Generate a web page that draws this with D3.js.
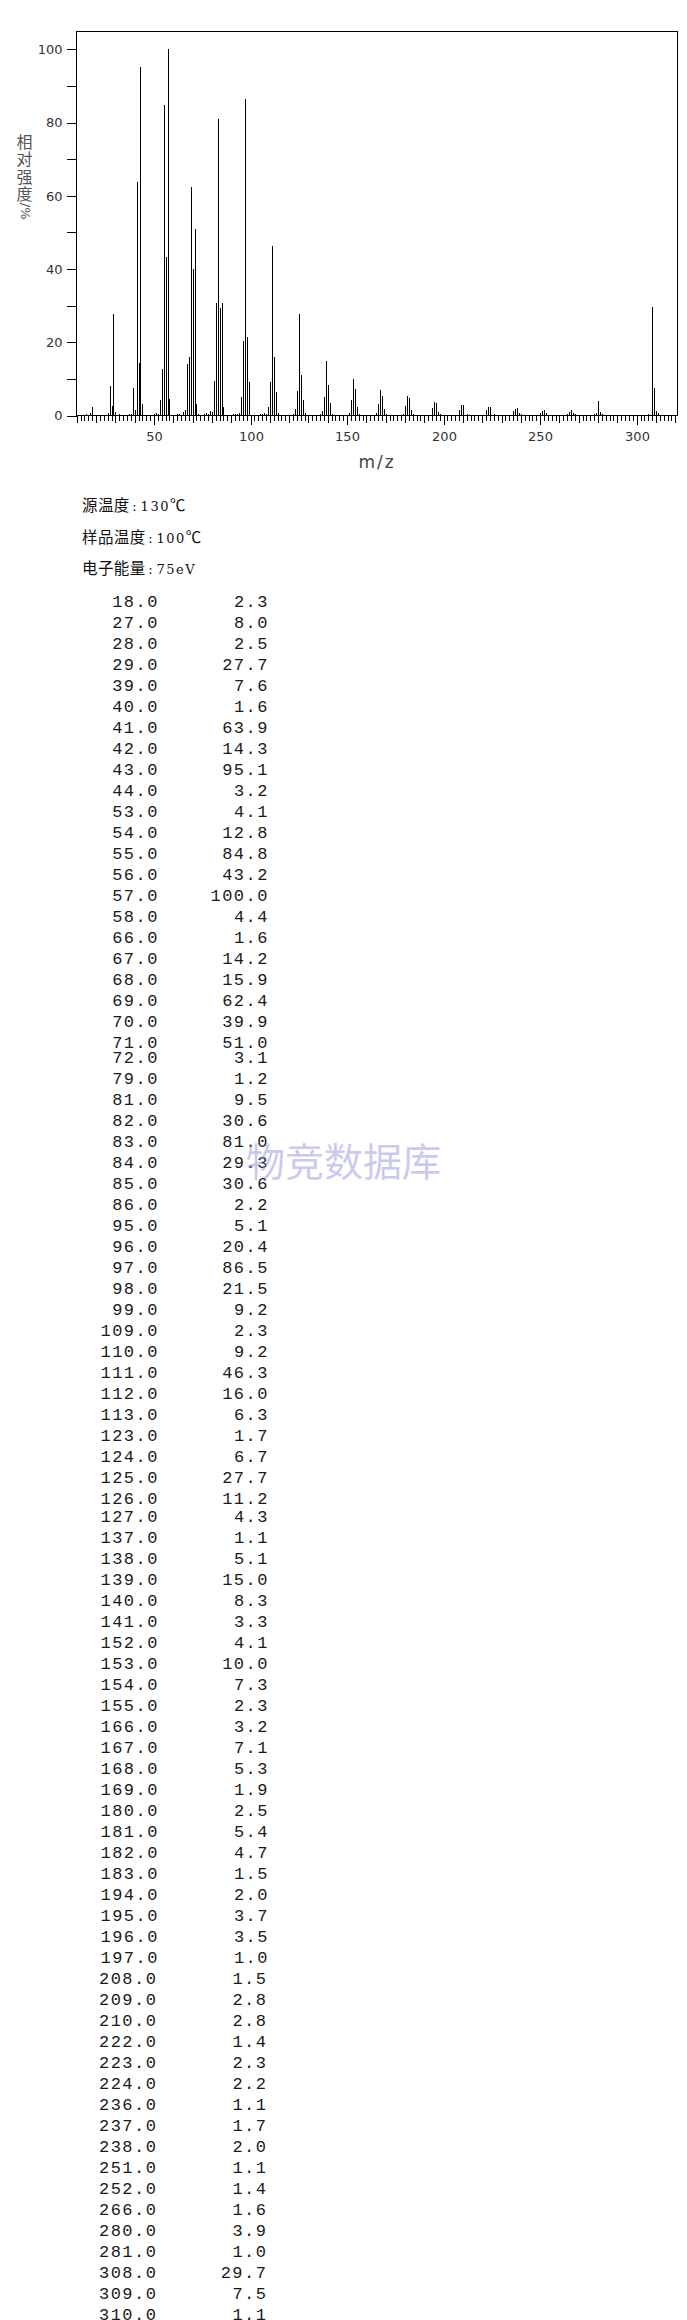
<!DOCTYPE html>
<html><head><meta charset="utf-8">
<script src="https://cdn.jsdelivr.net/npm/d3@7/dist/d3.min.js"></script>
<style>body{margin:0;background:#fff}svg{display:block}</style>
</head><body>
<svg id="c" width="687" height="2320"></svg>
<script>
// ---- data ----
const mz = [18,27,28,29,39,40,41,42,43,44,53,54,55,56,57,58,66,67,68,69,70,71,72,79,81,82,83,84,85,86,95,96,97,98,99,109,110,111,112,113,123,124,125,126,127,137,138,139,140,141,152,153,154,155,166,167,168,169,180,181,182,183,194,195,196,197,208,209,210,222,223,224,236,237,238,251,252,266,280,281,308,309,310];
const intensity = [2.3,8.0,2.5,27.7,7.6,1.6,63.9,14.3,95.1,3.2,4.1,12.8,84.8,43.2,100.0,4.4,1.6,14.2,15.9,62.4,39.9,51.0,3.1,1.2,9.5,30.6,81.0,29.3,30.6,2.2,5.1,20.4,86.5,21.5,9.2,2.3,9.2,46.3,16.0,6.3,1.7,6.7,27.7,11.2,4.3,1.1,5.1,15.0,8.3,3.3,4.1,10.0,7.3,2.3,3.2,7.1,5.3,1.9,2.5,5.4,4.7,1.5,2.0,3.7,3.5,1.0,1.5,2.8,2.8,1.4,2.3,2.2,1.1,1.7,2.0,1.1,1.4,1.6,3.9,1.0,29.7,7.5,1.1];
// tiny unlisted peaks visible in the plot (estimated)
const minorMz = [15,17,26,30,32,37,38,50,51,52,62,63,65,73,76,77,78,80,91,92,93,94,105,106,107,108,114,122,128,136,142,151,156,165,170,179,184,198,212,226,239,240,250,253,264,265,267,268,278,279,282,306,311];
const minorIntensity = [0.5,0.6,0.6,0.9,0.3,0.4,0.5,0.5,0.6,0.5,0.4,0.4,0.9,0.5,0.4,0.7,0.5,0.9,0.5,0.4,0.5,0.6,0.5,0.4,0.6,0.5,0.7,0.5,0.6,0.5,0.5,0.7,0.4,0.6,0.4,0.5,0.5,0.5,0.4,0.5,0.6,0.5,0.6,0.6,0.5,0.9,0.8,0.5,0.5,0.7,0.3,0.4,0.6];
const yTickValues = [0,10,20,30,40,50,60,70,80,90,100];
const xMajorTicks = [50,100,150,200,250,300];
const infoLines = ["源温度:130℃","样品温度:100℃","电子能量:75eV"];
const yLabelChars = ["相","对","强","度","/%"];
const xLabel = "m/z";
const watermark = "物竞数据库";

// ---- chart ----
const svg = d3.select("#c");
const L = 76.5, R = 677.5, T = 31.5, B = 415.5;
const x = d3.scaleLinear().domain([9.6, 320.9]).range([L, R]);
const y = d3.scaleLinear().domain([0, 104.9]).range([B, T]);
const px = v => Math.round(x(v) - 0.5) + 0.5;

const g = svg.append("g");

// peaks
const peaks = mz.map((m,i)=>({m, v:intensity[i]})).concat(minorMz.map((m,i)=>({m, v:minorIntensity[i]})));
g.append("g").selectAll("line").data(peaks).join("line")
  .attr("x1", d=>px(d.m)).attr("x2", d=>px(d.m))
  .attr("y1", y(0)).attr("y2", d=>Math.min(y(0)-1, y(d.v)))
  .attr("stroke","#000").attr("stroke-width",1).attr("shape-rendering","crispEdges");

// frame
g.append("rect").attr("x",L).attr("y",T).attr("width",R-L).attr("height",B-T)
  .attr("fill","none").attr("stroke","#000").attr("stroke-width",1).attr("shape-rendering","crispEdges");

// y axis
const yAxis = d3.axisLeft(y).tickValues(yTickValues).tickSize(10).tickPadding(4)
  .tickFormat(d => d % 20 === 0 ? d : "");
const ya = g.append("g").attr("transform",`translate(${L},0)`).call(yAxis);
ya.select(".domain").remove();
ya.selectAll("line").attr("shape-rendering","crispEdges").attr("stroke","#000");
ya.selectAll("text").attr("font-family","DejaVu Sans").attr("font-size",13).attr("fill","#333");

// x axis: minor, medium, major ticks
const minorT = d3.range(10, 321, 2).filter(v => v % 10 !== 0);
const medT = d3.range(10, 321, 10).filter(v => v % 50 !== 0);
function tickAxis(vals, size){
  const a = g.append("g").attr("transform",`translate(0,${B})`)
    .call(d3.axisBottom(x).tickValues(vals).tickSize(size).tickFormat(""));
  a.select(".domain").remove();
  a.selectAll("line").attr("stroke","#000").attr("shape-rendering","crispEdges");
  a.selectAll(".tick").attr("transform", d => `translate(${px(d)},0)`);
  return a;
}
tickAxis(minorT, 5);
tickAxis(medT, 7);
const xa = g.append("g").attr("transform",`translate(0,${B})`)
  .call(d3.axisBottom(x).tickValues(xMajorTicks).tickSize(9).tickPadding(7));
xa.select(".domain").remove();
xa.selectAll("line").attr("stroke","#000").attr("shape-rendering","crispEdges");
xa.selectAll(".tick").attr("transform", d => `translate(${px(d)},0)`);
xa.selectAll("text").attr("font-family","DejaVu Sans").attr("font-size",13).attr("fill","#333");

// axis labels
svg.append("text").attr("x",(L+R)/2).attr("y",468).attr("text-anchor","middle")
  .attr("font-family","DejaVu Sans").attr("font-size",17).attr("letter-spacing",2).attr("fill","#444").text(xLabel);
const yl = svg.append("g").attr("font-family","Noto Sans CJK SC").attr("font-size",16).attr("fill","#555");
yLabelChars.forEach((c,i)=>{
  const cy = 141 + i*17.3;
  const t = yl.append("text").attr("x",24.5).attr("y",cy).attr("text-anchor","middle")
    .attr("dominant-baseline","central").text(c);
  if (i === yLabelChars.length-1) t.attr("font-family","DejaVu Sans").attr("font-size",13).attr("transform",`rotate(90,24.5,${cy+1})`);
});

// info lines
const isWide = ch => ch.charCodeAt(0) >= 0x2000;
infoLines.forEach((line,i)=>{
  const t = svg.append("text").attr("x",82).attr("y",511 + i*31.6).attr("fill","#111");
  [...line].forEach((ch,j)=>{
    const s = t.append("tspan").text(ch);
    if (isWide(ch)) s.attr("font-family","Noto Sans CJK SC").attr("font-size",15.5).attr("letter-spacing",0.4);
    else s.attr("font-family","DejaVu Serif").attr("font-size",13).attr("letter-spacing",1.5);
    if (ch === ":") s.attr("dx",2.5);
    if (j>0 && line[j-1] === ":") s.attr("dx",2.5);
  });
});

// table
const rowY = i => 601.7 + 21.0*i - (i>=22 ? 6.5 : 0) - (i>=44 ? 2.6 : 0) + 5.5;
const rowDx = i => i>=66 ? -1.5 : 0;
const tbl = svg.append("g").attr("font-family","Liberation Mono").attr("font-size",17)
  .attr("letter-spacing",1.47).attr("fill","#1a1a1a").attr("text-anchor","end");
const rows = tbl.selectAll("g").data(mz).join("g");
rows.append("text").attr("x",(d,i)=>158.9+rowDx(i)).attr("y",(d,i)=>rowY(i)).text(d=>d.toFixed(1));
rows.append("text").attr("x",(d,i)=>268.9+rowDx(i)).attr("y",(d,i)=>rowY(i)).text((d,i)=>intensity[i].toFixed(1));

// watermark
svg.append("text").attr("x",246).attr("y",1159).attr("dominant-baseline","central")
  .attr("font-family","Noto Sans CJK SC").attr("font-size",39)
  .attr("fill","rgb(150,150,222)").attr("fill-opacity",0.5).text(watermark);
</script>
</body></html>
